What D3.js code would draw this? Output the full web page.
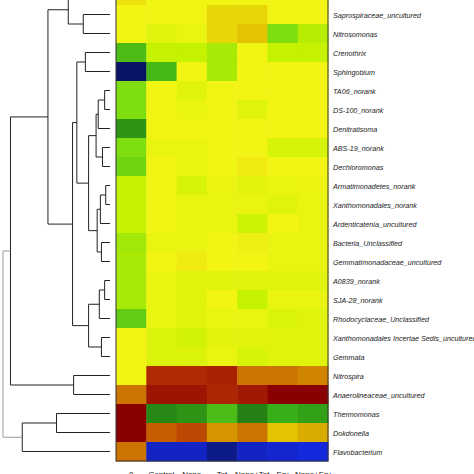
<!DOCTYPE html>
<html><head><meta charset="utf-8">
<script src="https://cdn.jsdelivr.net/npm/d3@7"></script>
<style>body{margin:0;background:#fff}</style>
</head><body>
<svg id="chart" width="474" height="474"></svg>
<script>
var columns = ["0", "Control", "Nano", "Tet", "Nano+Tet", "Ery", "Nano+Ery"];
var rowNames = ["", "Saprospiraceae_uncultured", "Nitrosomonas", "Crenothrix", "Sphingobium",
  "TA06_norank", "DS-100_norank", "Denitratisoma", "ABS-19_norank", "Dechloromonas",
  "Armatimonadetes_norank", "Xanthomonadales_norank", "Ardenticatenia_uncultured",
  "Bacteria_Unclassified", "Gemmatimonadaceae_uncultured", "A0839_norank", "SJA-28_norank",
  "Rhodocyclaceae_Unclassified", "Xanthomonadales Incertae Sedis_uncultured", "Gemmata",
  "Nitrospira", "Anaerolineaceae_uncultured", "Thermomonas", "Dokdonella", "Flavobacterium"];
var values = [
  [6.4,6,6,6,6,6,6],
  [6,6,6,6.6,6.6,6,6],
  [6,5.6,5.8,6.6,7,4,4.8],
  [3.3,5,5,4.6,6,5,5],
  [0,3.2,6,4.6,6,6,6],
  [4,6,5.6,6,6,6,6],
  [4,6,5.8,6,5.6,6,6],
  [2.6,6,6,6,6,6,6],
  [4,5.8,5.8,6,6,5.4,5.4],
  [3.8,6,5.8,6,6.2,6,6],
  [5,6,5.4,5.9,5.7,5.8,5.9],
  [5,6,5.8,5.8,5.8,5.6,5.8],
  [5,6,5.8,5.8,5.2,6,5.8],
  [4.5,5.8,5.8,6,6.1,5.8,5.8],
  [4.6,6,6.2,6,6,5.8,5.8],
  [4.6,5.8,5.6,5.6,5.6,5.6,5.6],
  [4.6,5.8,5.6,6,5,5.8,5.8],
  [3.6,5.8,5.6,5.8,5.8,5.5,5.6],
  [6,5.5,5.3,5.7,5.7,5.6,5.6],
  [6,5.5,5.5,5.8,5.4,5.6,5.6],
  [6,9,9,9.2,8,8,7.8],
  [8,9.5,9.5,9.1,9.4,10,10],
  [10,2.4,2.6,3.3,2.3,3,2.8],
  [10,8.3,8.6,7.6,8,7,7.3],
  [8,0.8,0.8,0.3,0.8,0.9,1]
];
// dendrogram merges: [left, right, height]; leaves are row indices
var topCluster = [0, [1, 2, 25], 39];
var clusterI = [[[5, 6, 5], 7, 11], [8, 9, 7], 13];
var clusterJ = [[[10, 11, 4], 12, 9], [13, 14, 8], 12];
var clusterE = [[3, 4, 23], [clusterI, clusterJ, 20], 31];
var clusterK = [[[15, 16, 5], 17, 10], [18, 19, 8], 20];
var clusterC = [topCluster, [clusterE, clusterK, 35], 58];
var clusterA = [clusterC, [20, 21, 34], 93];
var clusterB = [[22, 23, 50], 24, 82];
var tree = [clusterA, clusterB, 100];

var svg = d3.select("#chart");
var x = d3.scaleBand().domain(columns).range([116, 328]);
var y = d3.scaleBand().domain(d3.range(rowNames.length)).range([-14, 461]);
var color = d3.scaleLinear()
  .domain([0, 1, 2, 3, 4, 5, 6, 7, 8, 9, 10])
  .range(["#0a1466", "#1428dc", "#1e6e14", "#38ae18", "#7ede10", "#c4f200", "#f2f414", "#e2c400", "#cc7400", "#b02a04", "#8a0000"]);

values.forEach(function (row, i) {
  svg.selectAll(null).data(row).enter().append("rect")
    .attr("x", function (d, j) { return x(columns[j]); })
    .attr("y", y(i))
    .attr("width", x.bandwidth() + 0.5)
    .attr("height", y.bandwidth() + 0.5)
    .attr("fill", function (d) { return color(d); });
});
svg.append("rect").attr("x", 116).attr("y", -14).attr("width", 212).attr("height", 475)
  .attr("fill", "none").attr("stroke", "#333").attr("stroke-width", 1);

svg.selectAll(".lab").data(rowNames).enter().append("text")
  .attr("x", 333).attr("y", function (d, i) { return y(i) + y.bandwidth() / 2 + 3; })
  .attr("font-family", "Liberation Sans, Arial").attr("font-size", 7.2).attr("font-style", "italic")
  .attr("fill", "#222").text(function (d) { return d; });
svg.selectAll(".col").data(columns).enter().append("text")
  .attr("x", function (d) { return x(d) + x.bandwidth() / 2; }).attr("y", 477)
  .attr("text-anchor", "middle").attr("font-family", "Liberation Sans, Arial")
  .attr("font-size", 8).attr("fill", "#222").text(function (d) { return d; });

// dendrogram
var hx = d3.scaleLinear().domain([0, 100]).range([110, 3]);
var g = svg.append("g").attr("fill", "none").attr("stroke-width", 1);
function draw(node) {
  if (typeof node === "number") return { y: y(node) + y.bandwidth() / 2, h: 0 };
  var a = draw(node[0]), b = draw(node[1]), h = node[2];
  g.append("path").attr("stroke", h === 100 ? "#999" : "#222")
    .attr("d", "M" + hx(a.h) + "," + a.y + "H" + hx(h) + "V" + b.y + "H" + hx(b.h));
  return { y: (a.y + b.y) / 2, h: h };
}
draw(tree);
</script>
</body></html>
